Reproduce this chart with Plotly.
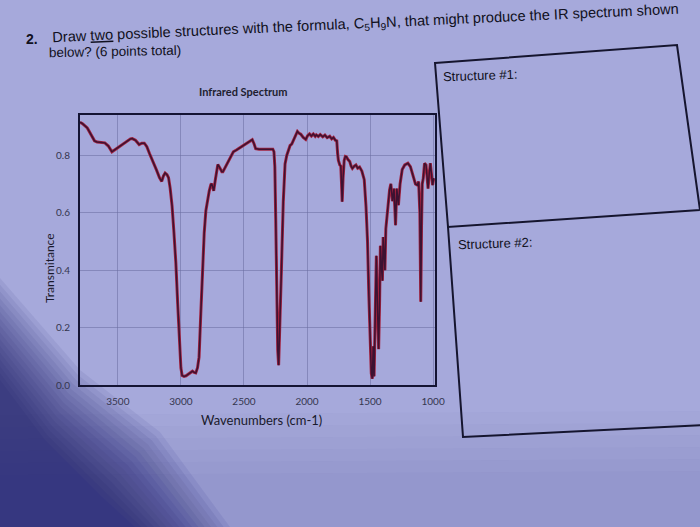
import plotly.graph_objects as go

# ---------------- data ----------------
wavenumber = [
    3800, 3780, 3742, 3715, 3700, 3685, 3665, 3644, 3625, 3603, 3575, 3547, 3520, 3494,
    3470, 3453, 3420, 3400, 3386, 3360, 3331, 3310, 3290, 3270, 3249, 3220, 3193, 3170,
    3152, 3138, 3125, 3110, 3098, 3085, 3070, 3055, 3040, 3025, 3011, 3000, 2990, 2975,
    2959, 2935, 2920, 2908, 2895, 2882, 2868, 2856, 2842, 2829, 2815, 2802, 2788, 2775,
    2762, 2756, 2748, 2740, 2725, 2707, 2690, 2675, 2667, 2645, 2626, 2605, 2584, 2560,
    2543, 2515, 2488, 2460, 2442, 2434, 2420, 2407, 2380, 2340, 2300, 2271, 2262, 2255,
    2248, 2240, 2232, 2225, 2215, 2203, 2188, 2174, 2160, 2145, 2134, 2121, 2100, 2085,
    2076, 2062, 2049, 2030, 2010, 1995, 1980, 1965, 1950, 1935, 1926, 1910, 1895, 1875,
    1858, 1840, 1820, 1804, 1790, 1775, 1764, 1757, 1751, 1740, 1732, 1726, 1721, 1714,
    1705, 1696, 1688, 1675, 1661, 1650, 1640, 1625, 1612, 1598, 1583, 1565, 1546, 1532,
    1520, 1510, 1500, 1490, 1482, 1475, 1468, 1458, 1450, 1440, 1432, 1424, 1418, 1408,
    1402, 1396, 1388, 1382, 1375, 1360, 1345, 1335, 1322, 1310, 1298, 1288, 1275, 1262,
    1245, 1225, 1200, 1180, 1160, 1140, 1125, 1115, 1105, 1098, 1092, 1086, 1078, 1068,
    1056, 1046, 1040, 1030, 1022, 1012, 1004, 995,
]
transmittance = [
    0.915, 0.910, 0.895, 0.872, 0.860, 0.850, 0.846, 0.845, 0.846, 0.843, 0.832, 0.812, 0.820, 0.828,
    0.835, 0.840, 0.852, 0.857, 0.858, 0.852, 0.837, 0.842, 0.842, 0.830, 0.806, 0.778, 0.748, 0.722,
    0.709, 0.728, 0.738, 0.732, 0.722, 0.685, 0.624, 0.530, 0.426, 0.280, 0.135, 0.060, 0.033, 0.030,
    0.032, 0.040, 0.046, 0.048, 0.044, 0.042, 0.060, 0.097, 0.250, 0.421, 0.530, 0.607, 0.650, 0.676,
    0.698, 0.701, 0.690, 0.676, 0.720, 0.768, 0.755, 0.742, 0.742, 0.760, 0.778, 0.795, 0.812, 0.818,
    0.823, 0.830, 0.836, 0.845, 0.852, 0.854, 0.840, 0.823, 0.821, 0.821, 0.821, 0.821, 0.812, 0.760,
    0.580, 0.300, 0.120, 0.069, 0.190, 0.400, 0.640, 0.770, 0.800, 0.818, 0.834, 0.839, 0.862, 0.880,
    0.883, 0.876, 0.873, 0.862, 0.855, 0.868, 0.874, 0.867, 0.874, 0.866, 0.871, 0.865, 0.872, 0.864,
    0.870, 0.861, 0.866, 0.857, 0.862, 0.852, 0.850, 0.805, 0.782, 0.766, 0.762, 0.700, 0.638, 0.720,
    0.782, 0.796, 0.795, 0.785, 0.778, 0.762, 0.754, 0.762, 0.766, 0.755, 0.759, 0.745, 0.715, 0.620,
    0.500, 0.320, 0.140, 0.040, 0.022, 0.135, 0.030, 0.250, 0.450, 0.250, 0.125, 0.300, 0.485, 0.400,
    0.363, 0.515, 0.440, 0.400, 0.544, 0.620, 0.680, 0.700, 0.640, 0.684, 0.556, 0.684, 0.626, 0.700,
    0.750, 0.766, 0.772, 0.760, 0.731, 0.700, 0.696, 0.708, 0.600, 0.290, 0.550, 0.700, 0.720, 0.772,
    0.766, 0.700, 0.684, 0.740, 0.772, 0.730, 0.696, 0.720,
]
x_ticks = [3500, 3000, 2500, 2000, 1500, 1000]
y_ticks = [0.0, 0.2, 0.4, 0.6, 0.8]
y_tick_labels = ["0.0", "0.2", "0.4", "0.6", "0.8"]

chart_title = "Infrared Spectrum"
x_title = "Wavenumbers (cm-1)"
y_title = "Transmitance"
question_num = "2."
question_line1 = ("Draw <u>two</u> possible structures with the formula, "
                  "C<sub>5</sub>H<sub>9</sub>N, that might produce the IR spectrum shown")
question_line2 = "below? (6 points total)"
box_labels = ["Structure #1:", "Structure #2:"]

# ---------------- layout helpers ----------------
W, H = 700, 527
ML, MR, MT, MB = 80, 265, 115, 142
PW, PH = W - ML - MR, H - MT - MB


def px(x):
    return (x - ML) / PW


def py(y):
    return (H - MB - y) / PH


def path(points):
    return "M " + " L ".join(f"{px(a):.5f},{py(b):.5f}" for a, b in points)


fig = go.Figure()

# curve: red fringe + dark core
fig.add_trace(go.Scatter(x=wavenumber, y=transmittance, mode="lines",
                         line=dict(color="#a3223f", width=3.0), hoverinfo="skip",
                         showlegend=False))
fig.add_trace(go.Scatter(x=wavenumber, y=transmittance, mode="lines",
                         line=dict(color="#3c1232", width=1.5), showlegend=False))

shapes = []
# soft shadow in the lower-left corner: many thin translucent bands
outer = [(0, 278), (80, 370), (160, 432), (230, 527)]
inner = [(0, 380), (45, 440), (100, 495), (135, 527)]
steps = 16
for i in range(steps):
    t = i / (steps - 1)
    pts = [(a0 + (a1 - a0) * t, b0 + (b1 - b0) * t) for (a0, b0), (a1, b1) in zip(outer, inner)]
    shapes.append(dict(type="path", xref="paper", yref="paper",
                       path=path(pts + [(0, 527)]) + " Z",
                       fillcolor="rgba(22,22,92,0.065)", line=dict(width=0), layer="below"))
# gradual darkening toward the bottom of the page
for k in range(6):
    top = 415 + k * 12
    shapes.append(dict(type="path", xref="paper", yref="paper",
                       path=path([(0, top), (700, top - 4), (700, 527), (0, 527)]) + " Z",
                       fillcolor="rgba(60,60,130,0.025)", line=dict(width=0), layer="below"))

# answer boxes
box_line = dict(color="#15152e", width=2)
shapes.append(dict(type="path", xref="paper", yref="paper",
                   path=path([(435, 63), (677, 45), (700, 210), (448, 227)]) + " Z",
                   line=box_line, layer="above"))
shapes.append(dict(type="path", xref="paper", yref="paper",
                   path=path([(448, 227), (463, 437), (705, 425)]),
                   line=box_line, layer="above"))

chart_font = "Lato, 'Open Sans', sans-serif"
text_font = "'Liberation Sans', Arial, sans-serif"


def note(text, x, y, size, family, color="#101020", xa="center", angle=0):
    return dict(text=text, x=px(x), y=py(y), xref="paper", yref="paper",
                xanchor=xa, yanchor="middle", textangle=angle, showarrow=False,
                font=dict(family=family, size=size, color=color))


ann = [
    note(f"<b>{chart_title}</b>", 243, 91, 11, chart_font, "#1e1e30"),
    note(x_title, 261, 420, 13, chart_font, "#1a1a2c"),
    note(y_title, 49, 268, 12, chart_font, "#1a1a2c", angle=-90),
    note(f"<b>{question_num}</b>", 24, 39, 14, text_font, xa="left"),
    note(question_line1, 365, 23.5, 14.6, text_font, angle=-2.6),
    note(question_line2, 47, 52, 13.5, text_font, xa="left", angle=-1),
    note(box_labels[0], 441, 75, 13, text_font, xa="left", angle=-2),
    note(box_labels[1], 456, 243, 13, text_font, xa="left", angle=-2),
]

fig.update_layout(
    width=W, height=H,
    margin=dict(l=ML, r=MR, t=MT, b=MB),
    paper_bgcolor="#a6a9db",
    plot_bgcolor="rgba(0,0,0,0)",
    shapes=shapes,
    annotations=ann,
    showlegend=False,
)
axis_common = dict(showgrid=True, gridcolor="rgba(105,110,160,0.55)", gridwidth=1,
                   showline=True, mirror=True, linecolor="#141433", linewidth=2,
                   ticks="outside", tickcolor="rgba(0,0,0,0)", zeroline=False,
                   tickfont=dict(family=chart_font, size=10, color="#34364f"))
fig.update_xaxes(range=[3800, 985], tickvals=x_ticks, ticklen=6, **axis_common)
fig.update_yaxes(range=[0, 0.94], tickvals=y_ticks, ticktext=y_tick_labels, ticklen=6,
                 **axis_common)

fig.write_html("out.html",
               config={"displayModeBar": False},
               post_script="document.body.style.margin='0px';"
                           "document.body.style.overflow='hidden';")
